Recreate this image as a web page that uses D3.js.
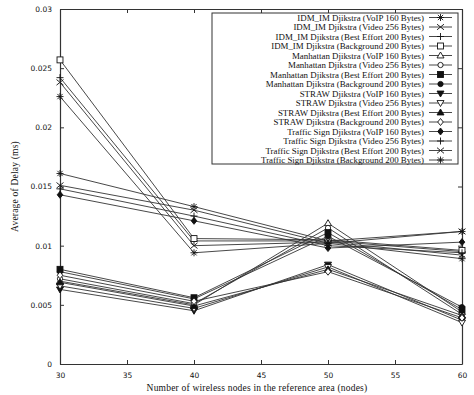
<!DOCTYPE html>
<html>
<head>
<meta charset="utf-8">
<script src="https://cdn.jsdelivr.net/npm/d3@7"></script>
<style>
  body { margin: 0; background: #fff; }
  svg text { fill: #111; }
</style>
</head>
<body>
<div id="chart"></div>
<script>
// x positions (number of nodes)
var nodes = [30, 40, 50, 60];

var seriesNames = [
  "IDM_IM Djikstra (VoIP 160 Bytes)",
  "IDM_IM Djikstra (Video 256 Bytes)",
  "IDM_IM Djikstra (Best Effort 200 Bytes)",
  "IDM_IM Djikstra (Background 200 Bytes)",
  "Manhattan Djikstra (VoIP 160 Bytes)",
  "Manhattan Djikstra (Video 256 Bytes)",
  "Manhattan Djikstra (Best Effort 200 Bytes)",
  "Manhattan Djikstra (Background 200 Bytes)",
  "STRAW Djikstra (VoIP 160 Bytes)",
  "STRAW Djikstra (Video 256 Bytes)",
  "STRAW Djikstra (Best Effort 200 Bytes)",
  "STRAW Djikstra (Background 200 Bytes)",
  "Traffic Sign Djikstra (VoIP 160 Bytes)",
  "Traffic Sign Djikstra (Video 256 Bytes)",
  "Traffic Sign Djikstra (Best Effort 200 Bytes)",
  "Traffic Sign Djikstra (Background 200 Bytes)"
];

var markers = ["star", "cross", "plus", "squareOpen",
               "triUpOpen", "circleOpen", "squareFill", "circleFill",
               "triDownFill", "triDownOpen", "triUpFill", "diamondOpen",
               "diamondFill", "plus", "cross", "star"];

var idmVoip     = [0.0226, 0.0094, 0.0102, 0.0089];
var idmVideo    = [0.0238, 0.0100, 0.0103, 0.0092];
var idmBest     = [0.0242, 0.0104, 0.0104, 0.0095];
var idmBack     = [0.0257, 0.0106, 0.0105, 0.0096];
var manVoip     = [0.0070, 0.0050, 0.0119, 0.0044];
var manVideo    = [0.0072, 0.0051, 0.0115, 0.0042];
var manBest     = [0.0080, 0.0056, 0.0111, 0.0046];
var manBack     = [0.0078, 0.0055, 0.0108, 0.0048];
var strawVoip   = [0.0063, 0.0045, 0.0084, 0.0037];
var strawVideo  = [0.0066, 0.0047, 0.0082, 0.0035];
var strawBest   = [0.0069, 0.0049, 0.0080, 0.0041];
var strawBack   = [0.0075, 0.0053, 0.0078, 0.0039];
var tsVoip      = [0.0143, 0.0121, 0.0098, 0.0103];
var tsVideo     = [0.0148, 0.0125, 0.0100, 0.0094];
var tsBest      = [0.0151, 0.0130, 0.0102, 0.0112];
var tsBack      = [0.0161, 0.0133, 0.0104, 0.0112];

var values = [idmVoip, idmVideo, idmBest, idmBack,
              manVoip, manVideo, manBest, manBack,
              strawVoip, strawVideo, strawBest, strawBack,
              tsVoip, tsVideo, tsBest, tsBack];

var xTicks = [30, 35, 40, 45, 50, 55, 60];
var yTicks = [0, 0.005, 0.01, 0.015, 0.02, 0.025, 0.03];

var width = 474, height = 395;
var margin = {left: 60, right: 12, top: 9, bottom: 31};
var w = width - margin.left - margin.right;
var h = height - margin.top - margin.bottom;

var svg = d3.select("#chart").append("svg")
    .attr("width", width)
    .attr("height", height);

var g = svg.append("g")
    .attr("transform", "translate(" + margin.left + "," + margin.top + ")");

var x = d3.scaleLinear().domain([30, 60]).range([0, w]);
var y = d3.scaleLinear().domain([0, 0.03]).range([h, 0]);

var tickFont = "'DejaVu Sans', sans-serif";
var serif = "'Liberation Serif', 'DejaVu Serif', serif";

// axes (ticks pointing inward)
var axBottom = g.append("g").attr("transform", "translate(0," + h + ")")
    .call(d3.axisBottom(x).tickValues(xTicks).tickSizeInner(-4).tickSizeOuter(0).tickPadding(9)
      .tickFormat(d3.format("d")));
var axTop = g.append("g")
    .call(d3.axisTop(x).tickValues(xTicks).tickSizeInner(-4).tickSizeOuter(0).tickFormat(""));
var axLeft = g.append("g")
    .call(d3.axisLeft(y).tickValues(yTicks).tickSizeInner(-4).tickSizeOuter(0).tickPadding(8)
      .tickFormat(function (d) { return d === 0 ? "0" : String(+d.toFixed(3)); }));
var axRight = g.append("g").attr("transform", "translate(" + w + ",0)")
    .call(d3.axisRight(y).tickValues(yTicks).tickSizeInner(-4).tickSizeOuter(0).tickFormat(""));

[axBottom, axTop, axLeft, axRight].forEach(function (a) {
  a.select(".domain").attr("stroke", "#333").attr("stroke-width", 1.2);
  a.selectAll(".tick line").attr("stroke", "#333");
  a.selectAll("text").style("font-family", tickFont).style("font-size", "7.5px").attr("fill", "#111");
});

// marker drawer
function drawMarker(sel, type, s) {
  var r = s / 2;
  var stroke = "#111";
  switch (type) {
    case "star":
      sel.append("path").attr("d", "M" + (-r) + ",0H" + r + "M0," + (-r) + "V" + r +
        "M" + (-r * 0.75) + "," + (-r * 0.75) + "L" + (r * 0.75) + "," + (r * 0.75) +
        "M" + (-r * 0.75) + "," + (r * 0.75) + "L" + (r * 0.75) + "," + (-r * 0.75))
        .attr("stroke", stroke).attr("fill", "none");
      break;
    case "cross":
      sel.append("path").attr("d", "M" + (-r) + "," + (-r * 0.8) + "L" + r + "," + (r * 0.8) +
        "M" + (-r) + "," + (r * 0.8) + "L" + r + "," + (-r * 0.8))
        .attr("stroke", stroke).attr("fill", "none");
      break;
    case "plus":
      sel.append("path").attr("d", "M" + (-r) + ",0H" + r + "M0," + (-r) + "V" + r)
        .attr("stroke", stroke).attr("fill", "none");
      break;
    case "squareOpen":
    case "squareFill":
      sel.append("rect").attr("x", -r * 0.85).attr("y", -r * 0.85)
        .attr("width", r * 1.7).attr("height", r * 1.7)
        .attr("stroke", stroke).attr("fill", type === "squareFill" ? stroke : "#fff");
      break;
    case "circleOpen":
    case "circleFill":
      sel.append("circle").attr("r", r * 0.75)
        .attr("stroke", stroke).attr("fill", type === "circleFill" ? stroke : "#fff");
      break;
    case "triUpOpen":
    case "triUpFill":
      sel.append("path").attr("d", "M0," + (-r) + "L" + r + "," + (r * 0.7) + "L" + (-r) + "," + (r * 0.7) + "Z")
        .attr("stroke", stroke).attr("fill", type === "triUpFill" ? stroke : "#fff");
      break;
    case "triDownOpen":
    case "triDownFill":
      sel.append("path").attr("d", "M0," + r + "L" + r + "," + (-r * 0.7) + "L" + (-r) + "," + (-r * 0.7) + "Z")
        .attr("stroke", stroke).attr("fill", type === "triDownFill" ? stroke : "#fff");
      break;
    case "diamondOpen":
    case "diamondFill":
      sel.append("path").attr("d", "M0," + (-r) + "L" + (r * 0.8) + ",0L0," + r + "L" + (-r * 0.8) + ",0Z")
        .attr("stroke", stroke).attr("fill", type === "diamondFill" ? stroke : "#fff");
      break;
  }
}

var line = d3.line()
    .x(function (d, i) { return x(nodes[i]); })
    .y(function (d) { return y(d); });

// lines
g.selectAll(".series")
    .data(values)
    .enter().append("path")
    .attr("class", "series")
    .attr("d", line)
    .attr("fill", "none")
    .attr("stroke", "#333")
    .attr("stroke-width", 0.9);

// markers
values.forEach(function (vals, k) {
  vals.forEach(function (v, i) {
    var m = g.append("g").attr("transform", "translate(" + x(nodes[i]) + "," + y(v) + ")")
        .attr("stroke-width", 0.9);
    drawMarker(m, markers[k], 7);
  });
});

// legend
var lg = svg.append("g");
lg.append("rect")
    .attr("x", 212).attr("y", 13)
    .attr("width", 246).attr("height", 151)
    .attr("fill", "#fff").attr("stroke", "#333").attr("stroke-width", 1);

seriesNames.forEach(function (name, k) {
  var yy = 17.5 + k * 9.5;
  lg.append("text")
      .attr("x", 424).attr("y", yy + 3)
      .attr("text-anchor", "end")
      .style("font-family", serif)
      .style("font-size", "8.9px")
      .text(name);
  lg.append("line")
      .attr("x1", 429).attr("x2", 452)
      .attr("y1", yy).attr("y2", yy)
      .attr("stroke", "#333").attr("stroke-width", 0.9);
  var m = lg.append("g").attr("transform", "translate(440.5," + yy + ")").attr("stroke-width", 0.9);
  drawMarker(m, markers[k], 7);
});

// axis titles
svg.append("text")
    .attr("x", margin.left + w / 2 - 4).attr("y", 391)
    .attr("text-anchor", "middle")
    .style("font-family", serif)
    .style("font-size", "9.5px")
    .style("letter-spacing", "0.2px")
    .text("Number of wireless nodes in the reference area (nodes)");

svg.append("text")
    .attr("transform", "translate(18," + (margin.top + h / 2) + ") rotate(-90)")
    .attr("text-anchor", "middle")
    .style("font-family", serif)
    .style("font-size", "9.5px")
    .style("letter-spacing", "0.2px")
    .text("Average of Delay (ms)");
</script>
</body>
</html>
